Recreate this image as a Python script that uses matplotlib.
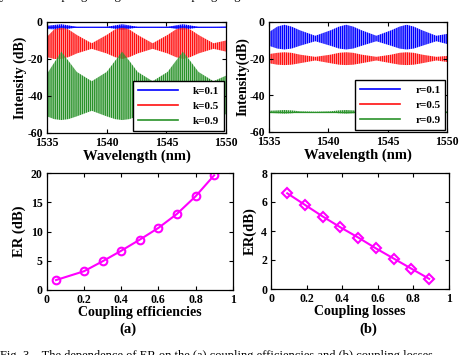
import numpy as np
import matplotlib
matplotlib.use("Agg")
import matplotlib.pyplot as plt
from matplotlib.lines import Line2D

plt.rcParams['font.family'] = ['Liberation Serif', 'DejaVu Serif']
plt.rcParams['font.weight'] = 'bold'
plt.rcParams['axes.unicode_minus'] = False
plt.rcParams['hatch.linewidth'] = 1.1

# envelope knots of the ring spectra, dB
wl_k = [1535, 1535.6, 1536.2, 1536.8, 1537.5, 1538.75, 1540.0, 1540.7, 1541.3,
        1541.9, 1542.6, 1543.85, 1545.1, 1545.8, 1546.4, 1547.0, 1547.7, 1548.95, 1550]
k01_hi = [-2.0, -1.6, -1.2, -1.8, -2.7, -2.8, -2.7, -1.8, -1.2, -1.8, -2.7, -2.8, -2.7, -1.8, -1.2, -1.8, -2.7, -2.8, -2.6]
k01_lo = [-3.8, -4.0, -4.2, -3.7, -3.0, -2.9, -3.0, -3.7, -4.2, -3.7, -3.0, -2.9, -3.0, -3.7, -4.2, -3.7, -3.0, -2.9, -3.0]
k05_hi = [-8.0, -4.0, -3.0, -4.0, -7.0, -11.5, -7.0, -4.0, -3.0, -4.0, -7.0, -11.5, -7.0, -4.0, -3.0, -4.0, -7.0, -11.5, -10.0]
k05_lo = [-19.0, -20.0, -20.0, -19.0, -17.0, -14.5, -17.0, -19.0, -20.0, -19.0, -17.0, -14.5, -17.0, -19.0, -20.0, -19.0, -17.0, -14.5, -16.0]
k09_hi = [-28.0, -22.0, -16.0, -21.0, -27.0, -32.0, -27.0, -21.0, -16.0, -21.0, -27.0, -32.0, -27.0, -21.0, -16.0, -21.0, -27.0, -32.0, -29.0]
k09_lo = [-51.0, -52.5, -53.0, -52.5, -51.0, -48.0, -51.0, -52.5, -53.0, -52.5, -51.0, -48.0, -51.0, -52.5, -53.0, -52.5, -51.0, -48.0, -50.0]

wl_r = [1535, 1535.7, 1536.3, 1536.9, 1537.6, 1538.9, 1540.2, 1540.9, 1541.5,
        1542.1, 1542.8, 1544.05, 1545.3, 1546.0, 1546.6, 1547.2, 1547.9, 1549.1, 1550]
r01_hi = [-5.5, -2.5, -1.5, -2.5, -4.5, -7.5, -4.5, -2.5, -1.5, -2.5, -4.5, -7.5, -4.5, -2.5, -1.5, -2.5, -4.5, -7.5, -6.5]
r01_lo = [-13.0, -14.5, -15.0, -14.5, -13.0, -10.5, -13.0, -14.5, -15.0, -14.5, -13.0, -10.5, -13.0, -14.5, -15.0, -14.5, -13.0, -10.5, -12.0]
r05_hi = [-17.5, -16.8, -16.5, -16.8, -17.8, -19.0, -17.8, -16.8, -16.5, -16.8, -17.8, -19.0, -17.8, -16.8, -16.5, -16.8, -17.8, -19.0, -18.5]
r05_lo = [-22.5, -23.3, -23.5, -23.3, -22.5, -21.0, -22.5, -23.3, -23.5, -23.3, -22.5, -21.0, -22.5, -23.3, -23.5, -23.3, -22.5, -21.0, -21.8]
r09_hi = [-48.4, -48.2, -48.0, -48.2, -48.7, -48.9, -48.7, -48.2, -48.0, -48.2, -48.7, -48.9, -48.7, -48.2, -48.0, -48.2, -48.7, -48.9, -48.8]
r09_lo = [-49.6, -49.8, -50.0, -49.8, -49.3, -49.1, -49.3, -49.8, -50.0, -49.8, -49.3, -49.1, -49.3, -49.8, -50.0, -49.8, -49.3, -49.1, -49.2]

# ER vs coupling
coup_eff = [0.05, 0.2, 0.3, 0.4, 0.5, 0.6, 0.7, 0.8, 0.9]
er_eff = [1.7, 3.2, 4.9, 6.7, 8.6, 10.6, 13.0, 16.0, 19.6]
coup_loss = [0.09, 0.19, 0.29, 0.39, 0.49, 0.59, 0.69, 0.79, 0.89]
er_loss = [6.6, 5.8, 5.0, 4.25, 3.55, 2.8, 2.1, 1.4, 0.7]

blue, red, green, mag = '#0000ff', '#ff1010', '#2a922a', '#ff00ff'
W, H = 474, 355
fig = plt.figure(figsize=(W / 100, H / 100), dpi=100)


def box(x0, y0, x1, y1):
    return fig.add_axes([x0 / W, 1 - y1 / H, (x1 - x0) / W, (y1 - y0) / H])


def style(ax):
    ax.tick_params(direction='in', top=True, right=True, labelsize=8.5, pad=3, length=3)
    for s in ax.spines.values():
        s.set_linewidth(0.9)
    for lab in ax.get_xticklabels() + ax.get_yticklabels():
        lab.set_fontweight('bold')


def spectrum(ax, wl, series, labels, colors, thin):
    handles = []
    for (hi, lo), lab, c, t in zip(series, labels, colors, thin):
        ax.fill_between(wl, lo, hi, facecolor='none', edgecolor=c, hatch='|' * 8, linewidth=0)
        if t:
            # flat stretches of the nearly unmodulated trace
            ax.plot(wl, (np.array(hi) + np.array(lo)) / 2, color=c, lw=0.9)
        handles.append(Line2D([], [], color=c, lw=1.2))
    ax.set_xlim(1535, 1550)
    ax.set_ylim(-60, 0)
    ax.set_xticks([1535, 1540, 1545, 1550])
    ax.set_yticks([0, -20, -40, -60])
    ax.set_xlabel('Wavelength (nm)', fontsize=10.5, fontweight='bold', labelpad=0)
    leg = ax.legend(handles, labels, loc='lower right', handlelength=3.6,
                    handletextpad=1.4, borderaxespad=0.2, fancybox=False, framealpha=1,
                    edgecolor='black', labelspacing=0.5, prop={'weight': 'bold', 'size': 8})
    leg.get_frame().set_linewidth(1.0)
    style(ax)


ax1 = box(47, 22, 226, 133)
spectrum(ax1, wl_k, [(k01_hi, k01_lo), (k05_hi, k05_lo), (k09_hi, k09_lo)],
         ['k=0.1', 'k=0.5', 'k=0.9'], [blue, red, green], [True, False, False])
ax1.set_ylabel('Intensity (dB)', fontsize=10, fontweight='bold', labelpad=0)

ax2 = box(269, 22, 447, 132)
spectrum(ax2, wl_r, [(r01_hi, r01_lo), (r05_hi, r05_lo), (r09_hi, r09_lo)],
         ['r=0.1', 'r=0.5', 'r=0.9'], [blue, red, green], [False, False, True])
ax2.set_ylabel('Intensity(dB)', fontsize=10, fontweight='bold', labelpad=0)

ax3 = box(46.7, 173, 232.7, 290)
ax3.plot(coup_eff, er_eff, color=mag, lw=1.5, marker='o', ms=5.5, mfc='none', mew=1.5)
ax3.set_xlim(0, 1)
ax3.set_ylim(0, 20)
ax3.set_xticks([0, 0.2, 0.4, 0.6, 0.8, 1])
ax3.set_xticklabels(['0', '0.2', '0.4', '0.6', '0.8', '1'])
ax3.set_yticks([0, 5, 10, 15, 20])
ax3.set_xlabel('Coupling efficiencies', fontsize=10, fontweight='bold', labelpad=0)
ax3.set_ylabel('ER (dB)', fontsize=10.5, fontweight='bold', labelpad=3)
style(ax3)

ax4 = box(271.3, 173, 448.7, 289)
ax4.plot(coup_loss, er_loss, color=mag, lw=1.5, marker='D', ms=5, mfc='none', mew=1.5)
ax4.set_xlim(0, 1)
ax4.set_ylim(0, 8)
ax4.set_xticks([0, 0.2, 0.4, 0.6, 0.8, 1])
ax4.set_xticklabels(['0', '0.2', '0.4', '0.6', '0.8', '1'])
ax4.set_yticks([0, 2, 4, 6, 8])
ax4.set_xlabel('Coupling losses', fontsize=10, fontweight='bold', labelpad=0)
ax4.set_ylabel('ER(dB)', fontsize=10.5, fontweight='bold', labelpad=3)
style(ax4)

fig.text(128 / W, 1 - 329 / H, '(a)', ha='center', va='center', fontsize=10.5, fontweight='bold')
fig.text(368 / W, 1 - 329 / H, '(b)', ha='center', va='center', fontsize=10.5, fontweight='bold')

# caption lines clipped by the page edges
fig.text(0.0, 1 + 0.5 / H, 'y on the coupling strength and the coupling ring', ha='left', va='baseline',
         fontsize=9, fontweight='normal')
fig.text(0.0, 1 - 356 / H, 'Fig. 3.   The dependence of ER on the (a) coupling efficiencies and (b) coupling losses',
         ha='left', va='center', fontsize=9, fontweight='normal')

fig.savefig('out.png', dpi=100)
